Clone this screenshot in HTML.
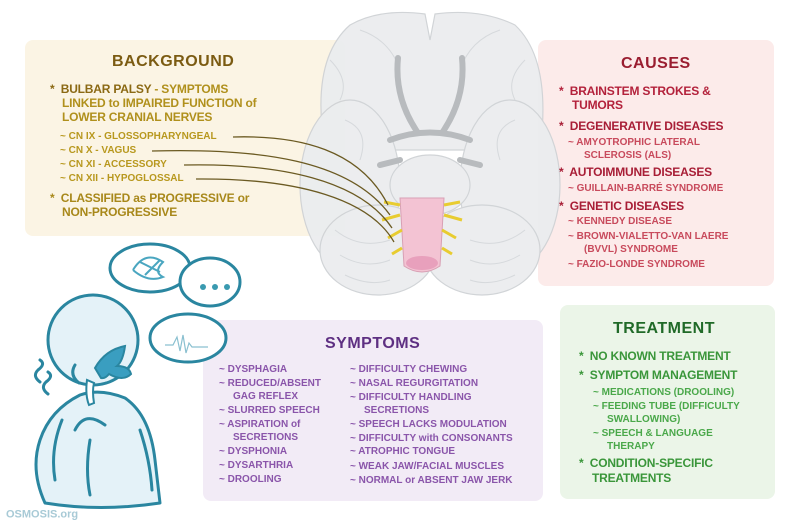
<!DOCTYPE html>
<html><head><meta charset="utf-8"><style>
body{margin:0;width:800px;height:527px;background:#fff;overflow:hidden;position:relative;font-family:"Liberation Sans",sans-serif;font-weight:bold}
.b{position:absolute;border-radius:8px}
.t{position:absolute;white-space:nowrap;line-height:1;transform:translateY(-50%)}
.h{font-size:16px;letter-spacing:.5px}
.m{font-size:12px;letter-spacing:-.2px}
.s{font-size:10px}
</style></head><body>
<div class="b" style="left:25px;top:40px;width:320px;height:196px;background:#fbf4e4"></div>
<div class="b" style="left:538px;top:40px;width:236px;height:246px;background:#fcebea"></div>
<div class="b" style="left:203px;top:320px;width:340px;height:181px;background:#f2ebf6"></div>
<div class="b" style="left:560px;top:305px;width:215px;height:194px;background:#ebf5e8"></div>

<svg style="position:absolute;left:0;top:0" width="800" height="527">
<g fill="#ebedef" stroke="#cfd2d5" stroke-width="1.2" opacity="0.95">
<path d="M325 150 Q310 60 350 25 Q380 8 425 14 L430 40 L435 14 Q480 8 515 25 Q552 60 540 150 Z"/>
<ellipse cx="350" cy="185" rx="50" ry="85"/>
<ellipse cx="510" cy="185" rx="50" ry="85"/>
<ellipse cx="378" cy="250" rx="58" ry="45"/>
<ellipse cx="482" cy="250" rx="58" ry="45"/>
<ellipse cx="430" cy="185" rx="40" ry="30"/>
</g>
<g fill="none" stroke="#d6d9dc" stroke-width="1">
<path d="M330 60 q20 20 10 40 M345 120 q25 10 15 40 M525 60 q-20 20 -10 40 M515 120 q-25 10 -15 40 M360 30 q30 10 40 40 M500 30 q-30 10 -40 40"/>
<path d="M335 230 q25 20 55 10 M525 230 q-25 20 -55 10 M340 255 q25 15 50 5 M520 255 q-25 15 -50 5 M345 275 q25 12 45 5 M515 275 q-25 12 -45 5"/>
</g>
<g fill="none" stroke="#b8bbbe" stroke-width="6" stroke-linecap="round">
<path d="M398 58 q-4 40 20 75 M462 58 q4 40 -20 75"/>
<path d="M390 140 q40 -15 80 0 M380 165 l20 -5 M480 165 l-20 -5"/>
</g>
<path d="M400 198 h44 l-4 68 q-18 12 -36 0 z" fill="#f3c3d3" stroke="#d8a0b4"/>
<ellipse cx="422" cy="263" rx="16" ry="7" fill="#e8a0bc"/>
<g stroke="#e8cc30" stroke-width="3" fill="none"><path d="M400 205 l-16 -3 M400 215 l-18 5 M402 230 l-14 8 M402 248 l-10 6 M444 205 l16 -3 M444 215 l18 5 M442 230 l14 8 M442 248 l10 6"/></g>
<g fill="none" stroke="#6b5a22" stroke-width="1.3">
<path d="M233 137 C300 135 360 150 388 205"/>
<path d="M152 151 C260 148 350 160 390 215"/>
<path d="M184 165 C280 163 360 180 392 228"/>
<path d="M196 179 C300 178 370 200 394 242"/>
</g>
<!-- person -->
<g fill="#e4f2f8" stroke="#2a86a0" stroke-width="3" stroke-linejoin="round">
<path d="M45 503 Q30 470 40 440 Q50 410 80 395 Q100 388 125 398 Q150 415 155 460 L160 503 Q100 512 45 503 Z"/>
<circle cx="93" cy="340" r="45"/>
</g>
<g fill="none" stroke="#2a86a0" stroke-width="3" stroke-linecap="round">
<path d="M62 420 Q50 450 55 480 M75 430 q10 -20 30 -5 M90 440 q-5 30 0 55 M140 430 q10 30 12 60"/>
<path d="M75 365 q-6 10 4 18"/>
<path d="M40 360 q6 4 -2 10 q-6 6 2 12 M48 372 q6 4 -2 10 q-6 6 2 12"/>
</g>
<path d="M95 368 q10 -18 30 -22 q-2 15 -8 20 q12 0 14 8 q-8 8 -22 0 q-4 5 -8 4 z" fill="#3a9ec0" stroke="#2a86a0" stroke-width="2"/>
<path d="M87 380 q-2 15 2 25 l5 -2 q-2 -12 0 -20z" fill="#fff" stroke="#2a86a0" stroke-width="2"/>
<g fill="#fff" stroke="#2a86a0" stroke-width="3">
<ellipse cx="150" cy="268" rx="40" ry="24"/>
<ellipse cx="210" cy="282" rx="30" ry="24"/>
<ellipse cx="188" cy="338" rx="38" ry="24"/>
</g>
<path d="M133 270 q12 -20 30 -8 q-10 10 0 15 q-15 6 -30 -7 M140 262 l20 10 M145 275 l15 -15" fill="none" stroke="#4aa6c0" stroke-width="2"/>
<g fill="#3a9ab0"><circle cx="203" cy="287" r="3"/><circle cx="215" cy="287" r="3"/><circle cx="227" cy="287" r="3"/></g>
<path d="M165 345 h8 l4 -8 3 14 3 -16 3 18 3 -10 3 4 h16" fill="none" stroke="#8ac0d0" stroke-width="1.2"/>
</svg>

<div style="color:#8b6914">
<div class="t h" style="left:112px;top:62px;color:#7b5b12">BACKGROUND</div>
<div class="t m" style="left:50px;top:89px">*&nbsp; BULBAR PALSY <span style="color:#b0901c">- SYMPTOMS</span></div>
<div class="t m" style="left:62px;top:103px;color:#b0901c">LINKED to IMPAIRED FUNCTION of</div>
<div class="t m" style="left:62px;top:117px;color:#b0901c">LOWER CRANIAL NERVES</div>
<div class="t s" style="left:60px;top:137px;color:#b8981e">~ CN IX - GLOSSOPHARYNGEAL</div>
<div class="t s" style="left:60px;top:151px;color:#b8981e">~ CN X - VAGUS</div>
<div class="t s" style="left:60px;top:165px;color:#b8981e">~ CN XI - ACCESSORY</div>
<div class="t s" style="left:60px;top:179px;color:#b8981e">~ CN XII - HYPOGLOSSAL</div>
<div class="t m" style="left:50px;top:198px;color:#a8881a">*&nbsp; CLASSIFIED as PROGRESSIVE or</div>
<div class="t m" style="left:62px;top:212px;color:#a8881a">NON-PROGRESSIVE</div>
</div>

<div style="color:#b3213b">
<div class="t h" style="left:621px;top:64px;color:#9a1d30">CAUSES</div>
<div class="t m" style="left:559px;top:91px">*&nbsp; BRAINSTEM STROKES &amp;</div>
<div class="t m" style="left:572px;top:105px">TUMORS</div>
<div class="t m" style="left:559px;top:126px;color:#a81e36">*&nbsp; DEGENERATIVE DISEASES</div>
<div class="t s" style="left:568px;top:143px;color:#c84a5c">~ AMYOTROPHIC LATERAL</div>
<div class="t s" style="left:584px;top:156px;color:#c84a5c">SCLEROSIS (ALS)</div>
<div class="t m" style="left:559px;top:172px;color:#a81e36">*&nbsp; AUTOIMMUNE DISEASES</div>
<div class="t s" style="left:568px;top:189px;color:#c84a5c">~ GUILLAIN-BARRÉ SYNDROME</div>
<div class="t m" style="left:559px;top:206px;color:#a81e36">*&nbsp; GENETIC DISEASES</div>
<div class="t s" style="left:568px;top:222px;color:#c84a5c">~ KENNEDY DISEASE</div>
<div class="t s" style="left:568px;top:237px;color:#c84a5c">~ BROWN-VIALETTO-VAN LAERE</div>
<div class="t s" style="left:584px;top:250px;color:#c84a5c">(BVVL) SYNDROME</div>
<div class="t s" style="left:568px;top:265px;color:#c84a5c">~ FAZIO-LONDE SYNDROME</div>
</div>

<div style="color:#8a55aa">
<div class="t h" style="left:325px;top:344px;color:#5e2f82">SYMPTOMS</div>
<div class="t s" style="left:219px;top:370px">~ DYSPHAGIA</div>
<div class="t s" style="left:219px;top:384px">~ REDUCED/ABSENT</div>
<div class="t s" style="left:233px;top:397px">GAG REFLEX</div>
<div class="t s" style="left:219px;top:411px">~ SLURRED SPEECH</div>
<div class="t s" style="left:219px;top:425px">~ ASPIRATION of</div>
<div class="t s" style="left:233px;top:438px">SECRETIONS</div>
<div class="t s" style="left:219px;top:452px">~ DYSPHONIA</div>
<div class="t s" style="left:219px;top:466px">~ DYSARTHRIA</div>
<div class="t s" style="left:219px;top:480px">~ DROOLING</div>
<div class="t s" style="left:350px;top:370px">~ DIFFICULTY CHEWING</div>
<div class="t s" style="left:350px;top:384px">~ NASAL REGURGITATION</div>
<div class="t s" style="left:350px;top:398px">~ DIFFICULTY HANDLING</div>
<div class="t s" style="left:364px;top:411px">SECRETIONS</div>
<div class="t s" style="left:350px;top:425px">~ SPEECH LACKS MODULATION</div>
<div class="t s" style="left:350px;top:439px">~ DIFFICULTY with CONSONANTS</div>
<div class="t s" style="left:350px;top:452px">~ ATROPHIC TONGUE</div>
<div class="t s" style="left:350px;top:467px">~ WEAK JAW/FACIAL MUSCLES</div>
<div class="t s" style="left:350px;top:481px">~ NORMAL or ABSENT JAW JERK</div>
</div>

<div style="color:#3a963a">
<div class="t h" style="left:613px;top:329px;color:#206a28">TREATMENT</div>
<div class="t m" style="left:579px;top:356px">*&nbsp; NO KNOWN TREATMENT</div>
<div class="t m" style="left:579px;top:375px">*&nbsp; SYMPTOM MANAGEMENT</div>
<div class="t s" style="left:593px;top:393px;color:#4aa84a">~ MEDICATIONS (DROOLING)</div>
<div class="t s" style="left:593px;top:407px;color:#4aa84a">~ FEEDING TUBE (DIFFICULTY</div>
<div class="t s" style="left:607px;top:420px;color:#4aa84a">SWALLOWING)</div>
<div class="t s" style="left:593px;top:434px;color:#4aa84a">~ SPEECH &amp; LANGUAGE</div>
<div class="t s" style="left:607px;top:447px;color:#4aa84a">THERAPY</div>
<div class="t m" style="left:579px;top:463px">*&nbsp; CONDITION-SPECIFIC</div>
<div class="t m" style="left:592px;top:478px">TREATMENTS</div>
</div>
<div class="t" style="left:6px;top:515px;font-size:11px;color:#a8cad6">OSMOSIS.org</div>
</body></html>
